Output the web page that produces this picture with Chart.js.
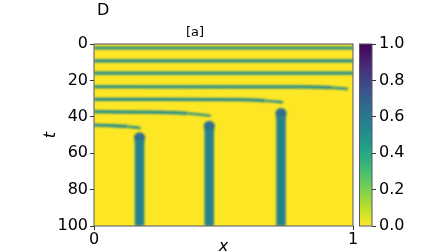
<!DOCTYPE html>
<html>
<head>
<meta charset="utf-8">
<script src="https://cdn.jsdelivr.net/npm/chart.js@4.4.1/dist/chart.umd.min.js"></script>
<style>
  html, body { margin: 0; padding: 0; background: #fff; }
  #wrap { position: relative; width: 448px; height: 252px; overflow: hidden; }
  #mainChart { position: absolute; left: 0; top: 0; }
  #cbarChart { position: absolute; left: 359px; top: 30px; }
</style>
</head>
<body>
<div id="wrap">
  <canvas id="mainChart" width="448" height="252"></canvas>
  <canvas id="cbarChart" width="89" height="210"></canvas>
</div>
<script>
// tick labels
const tTicks = [0, 20, 40, 60, 80, 100];
const xTicks = [0, 1];
const cbarTicks = [0, 0.2, 0.4, 0.6, 0.8, 1.0];

// horizontal stripes, [x, t] points
const stripeA = [[0, 2.2], [1, 2.2]];
const stripeB = [[0, 9.3], [1, 9.3]];
const stripeC = [[0, 16.0], [1, 16.0]];
const stripeD = [[0, 23.5], [0.8, 23.6], [0.92, 24.0], [0.98, 24.7]];
const stripeE = [[0, 30.4], [0.55, 30.6], [0.66, 31.1], [0.73, 32.0]];
const stripeF = [[0, 37.2], [0.22, 37.4], [0.36, 38.1], [0.45, 39.4]];
const stripeG = [[0, 44.6], [0.07, 44.8], [0.13, 45.3], [0.18, 46.2]];
const stripes = [stripeA, stripeB, stripeC, stripeD, stripeE, stripeF, stripeG];
const stripeLevel = 0.52;

// vertical columns
const columnX = [0.176, 0.445, 0.722];
const headT = [51.5, 45.2, 38.2];
const columnLevel = 0.56;
const headLevel = 0.64;

// viridis, reversed so 0 is yellow
const viridis = ['#440154', '#482878', '#3e4a89', '#31688e', '#26828e',
                 '#1f9e89', '#35b779', '#6dcd59', '#b4de2c', '#fde725'];
function hexRgb(h) {
    return [parseInt(h.slice(1, 3), 16), parseInt(h.slice(3, 5), 16), parseInt(h.slice(5, 7), 16)];
}
function cmap(v) {
    const p = (1 - v) * (viridis.length - 1);
    const i = Math.min(Math.floor(p), viridis.length - 2);
    const f = p - i;
    const a = hexRgb(viridis[i]), b = hexRgb(viridis[i + 1]);
    const c = a.map((n, k) => Math.round(n + (b[k] - n) * f));
    return `rgb(${c[0]},${c[1]},${c[2]})`;
}

Chart.defaults.font.family = 'DejaVu Sans';
Chart.defaults.color = '#000';

const datasets = [];
stripes.forEach(s => {
    datasets.push({
        data: s.map(p => ({ x: p[0], y: p[1] })),
        borderColor: cmap(stripeLevel),
        borderWidth: 3.2,
        tension: 0.3,
        pointRadius: 0,
        segment: {
            borderWidth: c => c.p0DataIndex >= 2 ? 2.4 : 3.2
        }
    });
});
columnX.forEach((x, i) => {
    datasets.push({
        data: [{ x: x, y: headT[i] + 1.5 }, { x: x, y: 100 }],
        borderColor: cmap(columnLevel),
        borderWidth: 9.5,
        borderCapStyle: 'butt',
        pointRadius: 0
    });
    datasets.push({
        data: [{ x: x, y: headT[i] }],
        showLine: false,
        pointStyle: 'circle',
        pointRadius: 5.6,
        pointBorderWidth: 0,
        pointBackgroundColor: cmap(headLevel)
    });
});

const fieldPlugin = {
    id: 'field',
    beforeDatasetsDraw(chart) {
        const { ctx, chartArea: a } = chart;
        ctx.save();
        ctx.fillStyle = cmap(0);
        ctx.fillRect(a.left, a.top, a.right - a.left, a.bottom - a.top);
        ctx.filter = 'blur(0.9px)';
    },
    afterDatasetsDraw(chart) {
        const { ctx, chartArea: a } = chart;
        ctx.restore();
        ctx.save();
        ctx.strokeStyle = '#55556a';
        ctx.lineWidth = 1;
        ctx.strokeRect(a.left, a.top, a.right - a.left, a.bottom - a.top);
        ctx.restore();
    },
    afterDraw(chart) {
        const ctx = chart.ctx;
        ctx.save();
        ctx.fillStyle = '#000';
        ctx.font = '16px "DejaVu Sans"';
        ctx.textBaseline = 'alphabetic';
        ctx.fillText('D', 97, 15);
        ctx.restore();
    }
};

new Chart(document.getElementById('mainChart'), {
    type: 'line',
    data: { datasets: datasets },
    options: {
        responsive: false,
        devicePixelRatio: 1,
        animation: false,
        layout: { padding: { left: 37, right: 95, top: 0, bottom: 0 } },
        plugins: {
            legend: { display: false },
            tooltip: { enabled: false },
            title: {
                display: true,
                text: '[a]',
                font: { size: 13, weight: 'normal' },
                color: '#000',
                padding: { top: 25, bottom: 3.4 }
            }
        },
        scales: {
            x: {
                type: 'linear',
                min: 0,
                max: 1,
                afterFit(scale) { scale.height = 26; },
                afterBuildTicks(scale) { scale.ticks = xTicks.map(v => ({ value: v })); },
                ticks: {
                    font: { size: 16 },
                    padding: 0,
                    maxRotation: 0,
                    callback: v => String(v)
                },
                grid: { drawOnChartArea: false, tickLength: 4, tickColor: '#333' },
                border: { display: false },
                title: {
                    display: true,
                    text: 'x',
                    font: { size: 16, style: 'italic' },
                    padding: { top: 0, bottom: -4 }
                }
            },
            y: {
                type: 'linear',
                min: 0,
                max: 100,
                reverse: true,
                afterFit(scale) { scale.width = 57; },
                ticks: {
                    stepSize: 10,
                    font: { size: 16 },
                    padding: 2,
                    callback: v => tTicks.includes(v) ? String(v) : ''
                },
                grid: {
                    drawOnChartArea: false,
                    tickLength: 4,
                    tickColor: '#333',
                    tickBorderDash: c => tTicks.includes(c.tick.value) ? [] : [2, 2],
                    tickBorderDashOffset: c => tTicks.includes(c.tick.value) ? 0 : 2
                },
                border: { display: false },
                title: {
                    display: true,
                    text: 't',
                    font: { size: 16, style: 'italic' },
                    padding: { top: 4, bottom: 0 }
                }
            }
        }
    },
    plugins: [fieldPlugin]
});

// colorbar
const cbarFrame = {
    id: 'cbarFrame',
    afterDatasetsDraw(chart) {
        const { ctx, chartArea: a } = chart;
        ctx.save();
        ctx.strokeStyle = '#55556a';
        ctx.lineWidth = 1;
        ctx.strokeRect(a.left + 0.5, a.top, a.right - a.left - 0.5, a.bottom - a.top);
        ctx.restore();
    }
};

new Chart(document.getElementById('cbarChart'), {
    type: 'bar',
    data: {
        labels: [''],
        datasets: [{
            data: [[0, 1]],
            barPercentage: 1,
            categoryPercentage: 1,
            borderWidth: 0,
            backgroundColor: c => {
                const area = c.chart.chartArea;
                if (!area) return cmap(0);
                const g = c.chart.ctx.createLinearGradient(0, area.bottom, 0, area.top);
                for (let k = 0; k <= 20; k++) g.addColorStop(k / 20, cmap(k / 20));
                return g;
            }
        }]
    },
    options: {
        responsive: false,
        devicePixelRatio: 1,
        animation: false,
        layout: { padding: { left: 0, right: 0, top: 14, bottom: 14 } },
        plugins: { legend: { display: false }, tooltip: { enabled: false } },
        scales: {
            x: { display: false },
            y: {
                position: 'right',
                min: 0,
                max: 1,
                afterFit(scale) { scale.width = 76; },
                afterBuildTicks(scale) { scale.ticks = cbarTicks.map(v => ({ value: v })); },
                ticks: {
                    font: { size: 16 },
                    padding: 3,
                    callback: v => v.toFixed(1)
                },
                grid: { drawOnChartArea: false, tickLength: 4, tickColor: '#333' },
                border: { display: false }
            }
        }
    },
    plugins: [cbarFrame]
});
</script>
</body>
</html>
